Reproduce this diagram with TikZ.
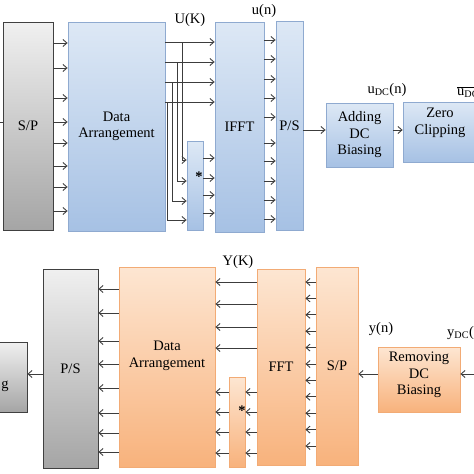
\documentclass[tikz,border=0pt]{standalone}
\usepackage{fontspec}
\setmainfont{Liberation Serif}
\usetikzlibrary{arrows.meta}
\definecolor{butop}{HTML}{DDE8F5}
\definecolor{bubot}{HTML}{A6C1E4}
\definecolor{bubd}{HTML}{8FAAD0}
\definecolor{gytop}{HTML}{F0F0F0}
\definecolor{gybot}{HTML}{A5A5A5}
\definecolor{gybd}{HTML}{404040}
\definecolor{ogtop}{HTML}{FDE6D2}
\definecolor{ogbot}{HTML}{F8B27C}
\definecolor{ogbd}{HTML}{F2AB75}
\definecolor{arc}{HTML}{3C3C3C}
\tikzset{%
  bx/.style={draw, rectangle, inner sep=0pt, align=center, line width=0.8pt,
    font=\fontsize{14.5}{16.5}\selectfont},
  bu/.style={bx, draw=bubd, top color=butop, bottom color=bubot},
  gy/.style={bx, draw=gybd, top color=gytop, bottom color=gybot},
  og/.style={bx, draw=ogbd, top color=ogtop, bottom color=ogbot},
  lb/.style={inner sep=0pt, font=\fontsize{14.5}{16.5}\selectfont},
  ar/.style={-{Straight Barb[length=4pt,width=7pt,line width=0.9pt]}, draw=arc, line width=0.8pt},
  wr/.style={draw=arc, line width=0.8pt}
}

\begin{document}
\begin{tikzpicture}[x=1pt, y=-1pt]
        \useasboundingbox (0,0) rectangle (474,474);
        \fill[white] (0,0) rectangle (474,474);
        % transmitter
        \node[gy] (sp1)  at (28,126)    [minimum width=50pt, minimum height=208pt] {S/P};
        \node[bu] (da1)  at (116.5,126.5) [minimum width=97pt, minimum height=209pt] {Data\\Arrangement};
        \node[bu] (st1)  at (195,185.5)  [minimum width=16pt, minimum height=89pt]  {};
        \node[lb] (st1s) at (199,177)    {\textbf{*}};
        \node[bu] (ifft) at (239.5,127)  [minimum width=49pt, minimum height=210pt] {IFFT};
        \node[bu] (ps1)  at (289.5,125.5) [minimum width=27pt, minimum height=209pt] {P/S};
        \node[bu] (adc)  at (359.5,135)  [minimum width=67pt, minimum height=64pt]  {Adding\\DC\\Biasing};
        \node[bu] (zc)   at (449,132)    [minimum width=92pt, minimum height=60pt]  {};
        \node[lb, align=center] (zct) at (440,123) {Zero\\Clipping};
        \node[lb] (uk)   at (190,20)     {U(K)};
        \node[lb] (un)   at (264,11)     {u(n)};
        \node[lb] (udc)  at (387,90)     {u\textsubscript{DC}(n)};
        \node[lb, anchor=west] (udcb) at (457,92) {$\overline{\hbox{u\textsubscript{DC}}}$};
        % receiver
        \node[gy] (dec)  at (-1.5,377)   [minimum width=57pt, minimum height=70pt]  {};
        \node[lb] (decg) at (5,386)      {g};
        \node[gy] (ps2)  at (70.5,368.5) [minimum width=55pt, minimum height=199pt] {P/S};
        \node[og] (da2)  at (167,367)    [minimum width=96pt, minimum height=200pt] {};
        \node[lb, align=center] (da2t) at (167,356) {Data\\Arrangement};
        \node[og] (st2)  at (237,422)    [minimum width=16pt, minimum height=90pt]  {};
        \node[lb] (st2s) at (242,411)    {\textbf{*}};
        \node[og] (fft)  at (281,367)    [minimum width=48pt, minimum height=196pt] {FFT};
        \node[og] (sp2)  at (337,366)    [minimum width=42pt, minimum height=198pt] {S/P};
        \node[og] (rdc)  at (419,379.5)  [minimum width=82pt, minimum height=65pt]  {};
        \node[lb, align=center] (rdct) at (419,375) {Removing\\DC\\Biasing};
        \node[lb] (yk)   at (238,262)    {Y(K)};
        \node[lb] (yn)   at (381,329)    {y(n)};
        \node[lb, anchor=west] (ydc) at (447,333) {y\textsubscript{DC}(n)};
        \coordinate (tin)  at (-10,122);
        \coordinate (rin)  at (490,374);
        % transmitter connectors
        \draw[wr] (tin) -- (sp1.west |- tin);
        \foreach \y in {43,68,98,122,143,166,187,211}
          \draw[ar] (sp1.east |- 0,\y) -- (da1.west |- 0,\y);
        \foreach \y in {42,62,82,102}
          \draw[ar] (da1.east |- 0,\y) -- (ifft.west |- 0,\y);
        \draw[ar] (da1.east |- 0,42)  -- ++(17,0) |- (st1.west |- 0,160);
        \draw[ar] (da1.east |- 0,62)  -- ++(12,0) |- (st1.west |- 0,181);
        \draw[ar] (da1.east |- 0,82)  -- ++(7,0)  |- (st1.west |- 0,201);
        \draw[ar] (da1.east |- 0,102) -- ++(2,0)  |- (st1.west |- 0,220);
        \foreach \y in {158,178,195,213}
          \draw[ar] (st1.east |- 0,\y) -- (ifft.west |- 0,\y);
        \foreach \y in {40,59,79,98,117,143,161,181,200,219}
          \draw[ar] (ifft.east |- 0,\y) -- (ps1.west |- 0,\y);
        \draw[ar] (ps1.east |- 0,130) -- (adc.west |- 0,130);
        \draw[ar] (adc.east |- 0,130) -- (zc.west |- 0,130);
        % receiver connectors
        \draw[ar] (ps2.west |- 0,374) -- (dec.east |- 0,374);
        \foreach \y in {289,313,341,364,388,413,433,452}
          \draw[ar] (da2.west |- 0,\y) -- (ps2.east |- 0,\y);
        \foreach \y in {282,304,327,348}
          \draw[ar] (fft.west |- 0,\y) -- (da2.east |- 0,\y);
        \foreach \y in {392,412,432,453} {
          \draw[ar] (fft.west |- 0,\y) -- (st2.east |- 0,\y);
          \draw[ar] (st2.west |- 0,\y) -- (da2.east |- 0,\y);
        }
        \foreach \y in {282,298.4,314.8,331.2,347.6,364,380.4,396.8,413.2,429.6,446}
          \draw[ar] (sp2.west |- 0,\y) -- (fft.east |- 0,\y);
        \draw[ar] (rdc.west |- 0,374) -- (sp2.east |- 0,374);
        \draw[ar] (rin) -- (rdc.east |- rin);
      \end{tikzpicture}
\end{document}
